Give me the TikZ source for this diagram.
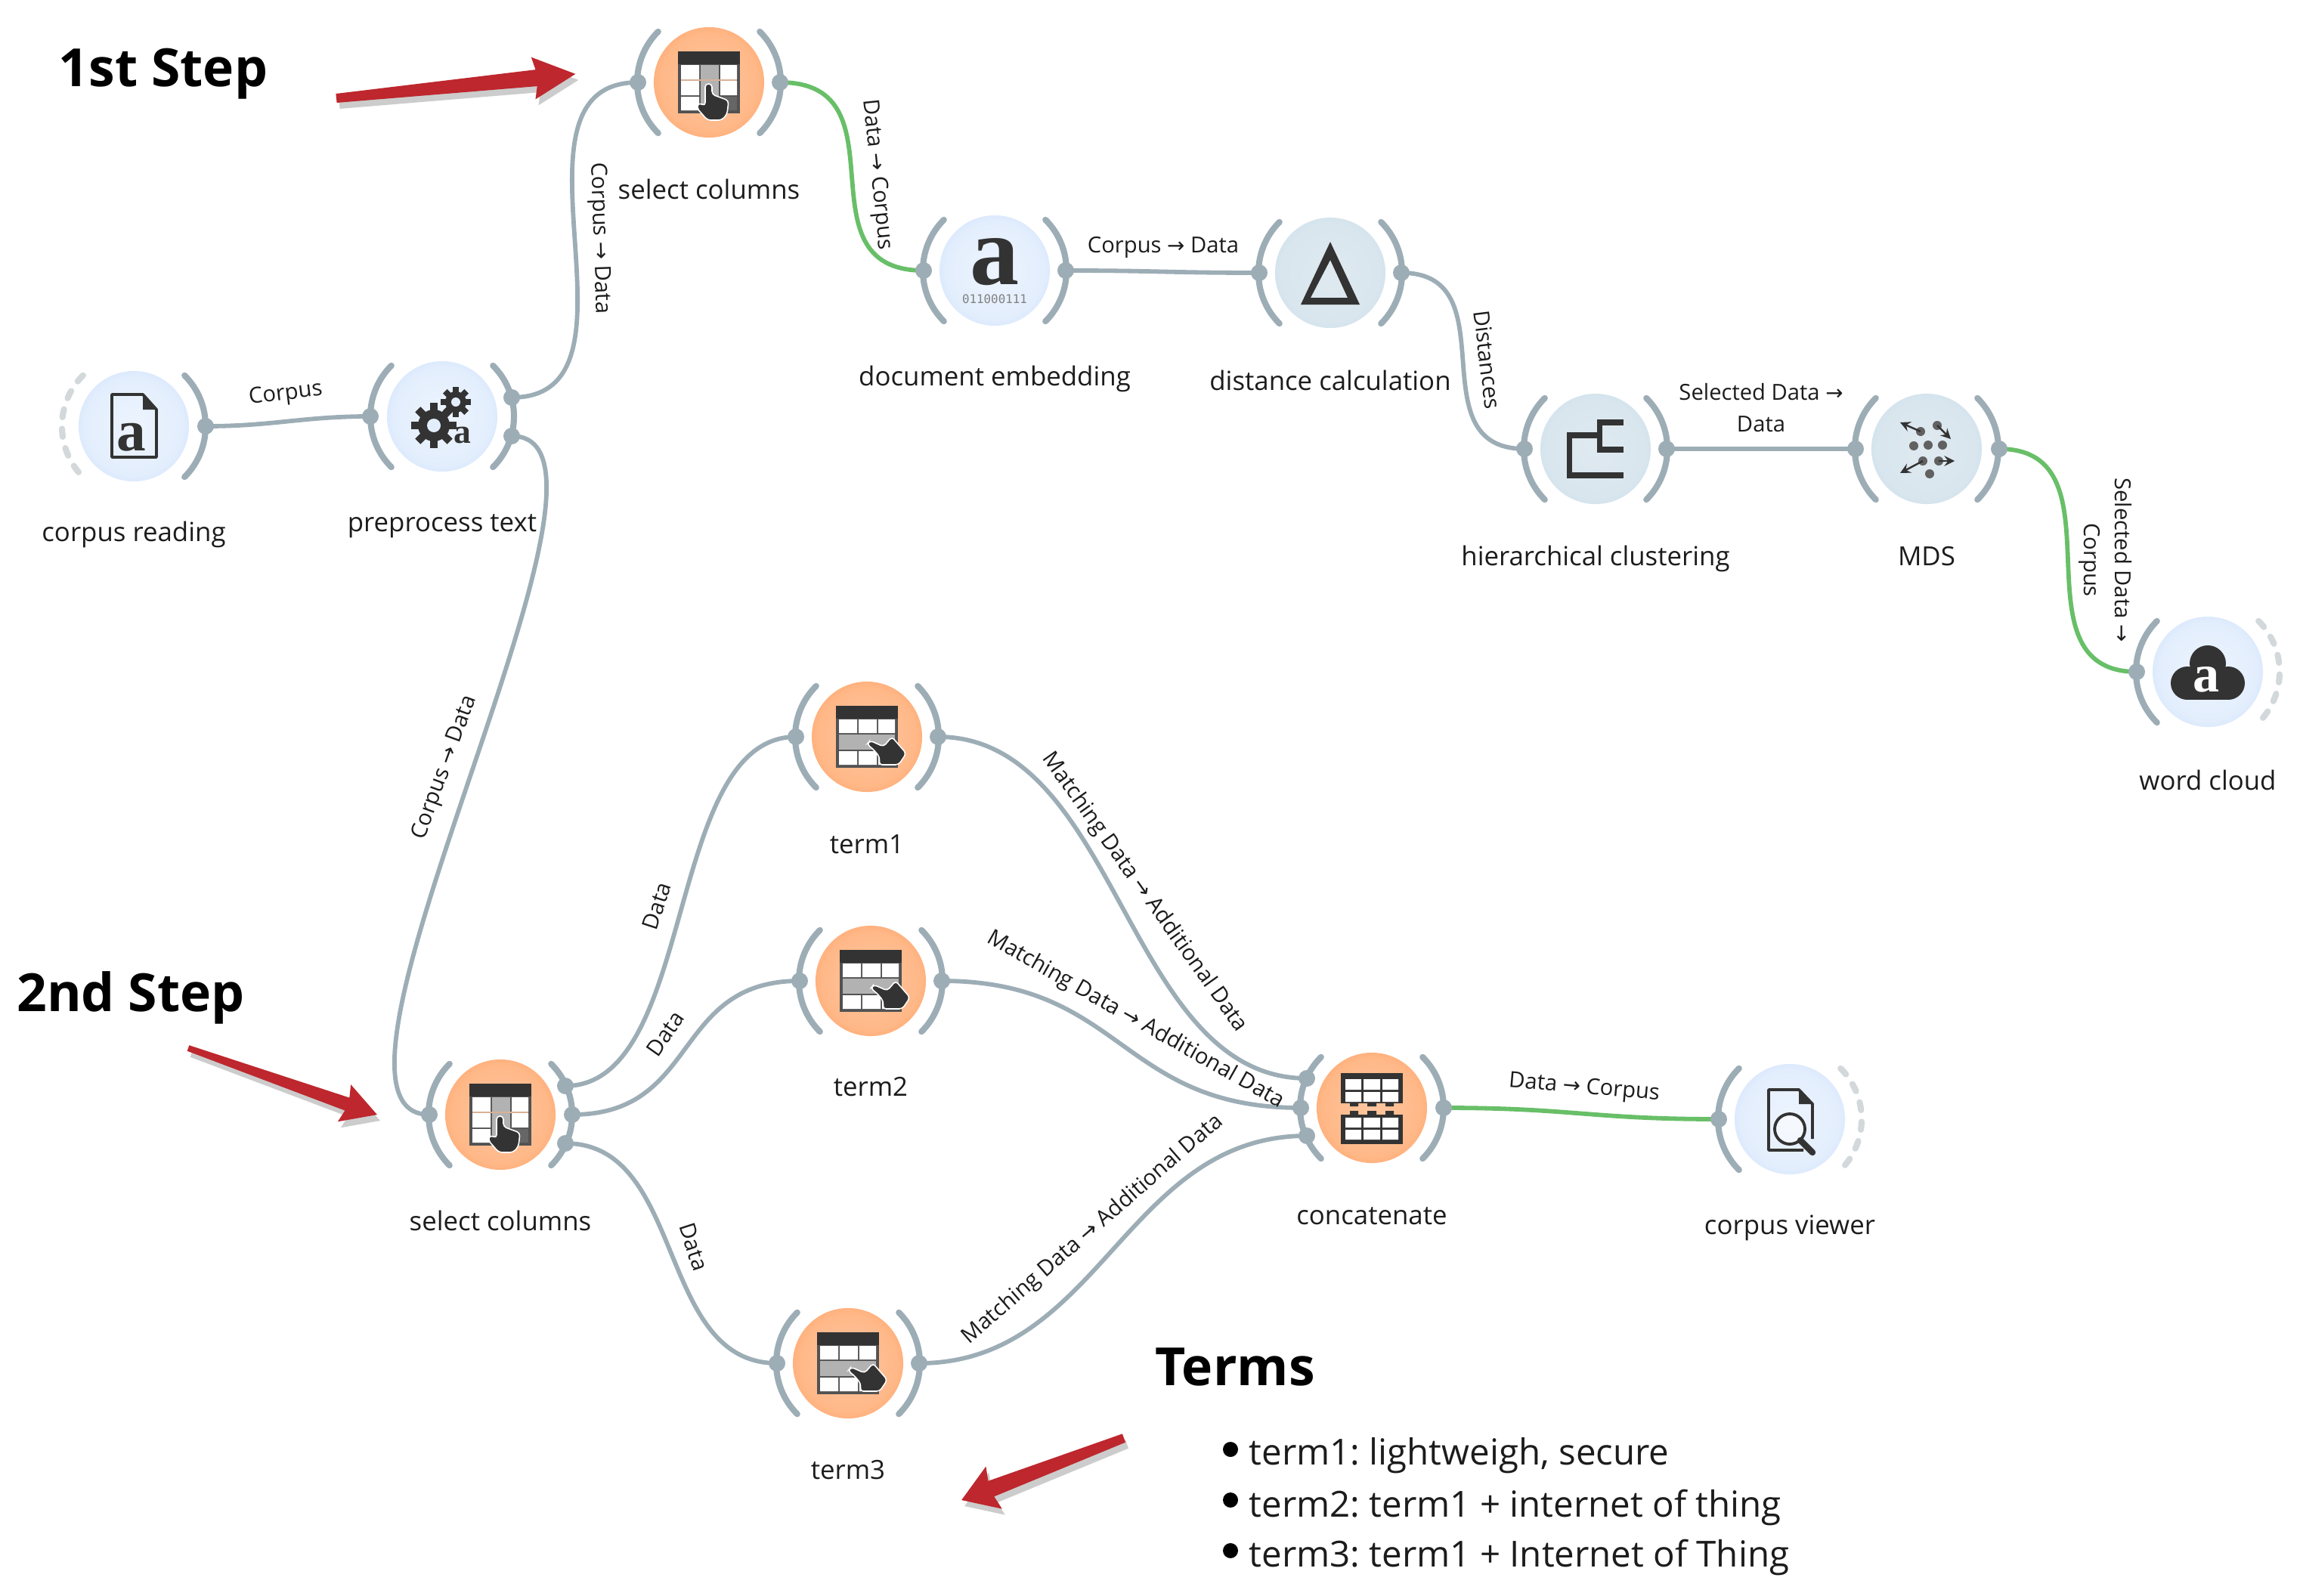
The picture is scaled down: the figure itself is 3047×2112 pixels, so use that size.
\documentclass[tikz,border=0pt]{standalone}
\usepackage{fontspec}
\setmainfont{Open Sans}
\newfontfamily\djv[Scale=0.95]{DejaVu Sans}
\newfontfamily\slab{Liberation Serif}
\newfontfamily\mono{DejaVu Sans Mono}
\definecolor{ico}{HTML}{333333}
\definecolor{wire}{HTML}{9DADB6}
\definecolor{ghost}{HTML}{D3D8DB}
\definecolor{gwire}{HTML}{68BF68}
\definecolor{redar}{HTML}{BD272D}
\definecolor{txt}{HTML}{1C1C1C}
\definecolor{oa}{HTML}{FFC6A0}\definecolor{ob}{HTML}{FFB888}\definecolor{oc}{HTML}{FF9C5E}
\definecolor{ba}{HTML}{EDF4FE}\definecolor{bb}{HTML}{E3EEFD}\definecolor{bc}{HTML}{C6DDFB}
\definecolor{sa}{HTML}{DFE9F0}\definecolor{sb}{HTML}{D9E6EE}\definecolor{sc}{HTML}{C6DCEA}
\pgfdeclareradialshading{orangeW}{\pgfpointorigin}{color(0bp)=(oa);color(22bp)=(ob);color(35bp)=(oc);color(50bp)=(oc)}
\pgfdeclareradialshading{blueW}{\pgfpointorigin}{color(0bp)=(ba);color(22bp)=(bb);color(35bp)=(bc);color(50bp)=(bc)}
\pgfdeclareradialshading{steelW}{\pgfpointorigin}{color(0bp)=(sa);color(22bp)=(sb);color(35bp)=(sc);color(50bp)=(sc)}
\pgfdeclarelayer{bg}\pgfsetlayers{bg,main}
\tikzset{
  wid/.style={circle,inner sep=0pt,minimum size=1.46cm,shade,shading=#1,draw=none},
  arcS/.style={draw=wire,line width=2.3pt,line cap=round},
  arcG/.style={draw=ghost,line width=2.3pt,line cap=round,dash pattern=on 3pt off 4.4pt},
  port/.style={circle,inner sep=0pt,minimum size=0.22cm,fill=wire},
  edge/.style={draw=wire,line width=1.65pt},
  gedge/.style={draw=gwire,line width=1.65pt},
  nlab/.style={inner sep=0pt,text=txt,font=\fontsize{9.9}{11}\selectfont},
  elab/.style={inner sep=0pt,text=txt,font=\fontsize{8.3}{9}\selectfont,align=center},
  head/.style={inner sep=0pt,text=black,font=\fontsize{19.8}{22}\selectfont\bfseries},
  blt/.style={inner sep=0pt,anchor=base west,text=txt,font=\fontsize{13.5}{15}\selectfont},
  bdot/.style={circle,inner sep=0pt,minimum size=0.2cm,fill=black},
}
\newcommand{\lpath}[2]{(#1-67.2,#2-67.2) .. controls (#1-104.3,#2-30.1) and (#1-104.3,#2+30.1) .. (#1-67.2,#2+67.2)}
\newcommand{\rpath}[2]{(#1+67.2,#2-67.2) .. controls (#1+104.3,#2-30.1) and (#1+104.3,#2+30.1) .. (#1+67.2,#2+67.2)}
% name, x, y, shading, left style, right style, label, label y
\newcommand{\wdg}[8]{%
  \node[wid=#4] (#1) at (#2,#3) {};
  \path[#5] \lpath{#2}{#3};
  \path[#6] \rpath{#2}{#3};
  \node[nlab] (#1l) at (#2,#8) {#7};
}
\newcommand{\prt}[3]{\node[port] (#1) at (#2,#3) {};}
\newcommand{\wire}[4]{\begin{pgfonlayer}{bg}\draw[#1] (#2.center) .. controls +(#4,0) and +(-#4,0) .. (#3.center);\end{pgfonlayer}}
\newcommand{\handS}{\filldraw[fill=ico,draw=white,line width=.45pt,rounded corners=1.2pt] (-5,2) -- (4,2) -- (4,16) -- (26,24) -- (24,42) -- (17,50) -- (-2,50) -- (-16,34) -- (-14,27) -- (-5,31) -- cycle;}
\newcommand{\handT}{\filldraw[fill=ico,draw=white,line width=.45pt,rounded corners=1.2pt] (0,10) -- (4,5) -- (22,13) -- (33,0) -- (52,22) -- (42,37) -- (16,37) -- (17,27) -- (8,16) -- cycle;}
\newcommand{\tblS}[2]{\begin{scope}[shift={(#1,#2)}]
  \fill[fill=ico!85!white] (-41,-41) rectangle (41,41);
  \fill[ico] (-41,-41) rectangle (41,-24);
  \fill[white] (-37,-23) rectangle (-13,-4) (-37,-2) rectangle (-13,17) (-37,19) rectangle (-13,37) (15,-23) rectangle (37,-4) (15,-2) rectangle (37,17);
  \fill[black!30] (-11,-23) rectangle (13,37);
  \fill[black!60] (15,19) rectangle (37,37);
  \fill[oa!70!gray] (-37,-4) rectangle (37,-2);
  \handS
\end{scope}}
\newcommand{\tblT}[2]{\begin{scope}[shift={(#1,#2)}]
  \fill[fill=ico!85!white] (-41,-41) rectangle (41,41);
  \fill[ico] (-41,-41) rectangle (41,-24);
  \fill[white] (-37,-23) rectangle (-13,-5) (-11,-23) rectangle (13,-5) (15,-23) rectangle (37,-5) (-37,19) rectangle (-13,37) (-11,19) rectangle (13,37) (15,19) rectangle (37,37);
  \fill[black!30] (-37,-3) rectangle (37,17);
  \handT
\end{scope}}
\begin{document}
\frenchspacing
\begin{tikzpicture}[x=0.01cm,y=-0.01cm]
\useasboundingbox (0,0) rectangle (3047,2112);
\begin{pgfonlayer}{bg}\fill[white] (0,0) rectangle (3047,2112);\end{pgfonlayer}

% widgets
\wdg{corp}{177}{564}{blueW}{arcG}{arcS}{corpus reading}{707}
\wdg{prep}{585}{551}{blueW}{arcS}{arcS}{preprocess text}{696}
\wdg{selA}{938}{109}{orangeW}{arcS}{arcS}{select columns}{250}
\wdg{docE}{1316}{358}{blueW}{arcS}{arcS}{document embedding}{501}
\wdg{dist}{1760}{361}{steelW}{arcS}{arcS}{distance calculation}{503}
\wdg{hier}{2111}{594}{steelW}{arcS}{arcS}{hierarchical clustering}{739}
\wdg{mds}{2549}{594}{steelW}{arcS}{arcS}{MDS}{736}
\wdg{wcl}{2921}{889}{blueW}{arcS}{arcG}{word cloud}{1032}
\wdg{selB}{662}{1475}{orangeW}{arcS}{arcS}{select columns}{1615}
\wdg{tA}{1147}{975}{orangeW}{arcS}{arcS}{term1}{1117}
\wdg{tB}{1152}{1298}{orangeW}{arcS}{arcS}{term2}{1438}
\wdg{tC}{1122}{1804}{orangeW}{arcS}{arcS}{term3}{1945}
\wdg{conc}{1815}{1466}{orangeW}{arcS}{arcS}{concatenate}{1609}
\wdg{view}{2368}{1481}{blueW}{arcS}{arcG}{corpus viewer}{1625}

% ports
\prt{corpO}{272}{564}
\prt{prepI}{490}{551}\prt{prepOa}{677}{526}\prt{prepOb}{677}{577}
\prt{selAI}{844}{109}\prt{selAO}{1032}{109}
\prt{docI}{1222}{358}\prt{docO}{1410}{358}
\prt{distI}{1666}{361}\prt{distO}{1854}{361}
\prt{hierI}{2017}{594}\prt{hierO}{2205}{594}
\prt{mdsI}{2455}{594}\prt{mdsO}{2645}{594}
\prt{wclI}{2827}{889}
\prt{selBI}{568}{1475}\prt{selBOa}{748}{1437}\prt{selBOb}{757}{1475}\prt{selBOc}{748}{1513}
\prt{tAI}{1053}{975}\prt{tAO}{1241}{975}
\prt{tBI}{1058}{1298}\prt{tBO}{1246}{1298}
\prt{tCI}{1028}{1804}\prt{tCO}{1216}{1804}
\prt{concIa}{1729}{1427}\prt{concIb}{1721}{1466}\prt{concIc}{1729}{1503}\prt{concO}{1910}{1466}
\prt{viewI}{2274}{1481}

% connectors
\wire{edge}{corpO}{prepI}{90}
\wire{edge}{prepOa}{selAI}{195}
\wire{edge}{prepOb}{selBI}{195}
\wire{gedge}{selAO}{docI}{170}
\wire{edge}{docO}{distI}{120}
\wire{edge}{distO}{hierI}{145}
\wire{edge}{hierO}{mdsI}{100}
\wire{gedge}{mdsO}{wclI}{170}
\wire{edge}{selBOa}{tAI}{175}
\wire{edge}{selBOb}{tBI}{170}
\wire{edge}{selBOc}{tCI}{160}
\wire{edge}{tAO}{concIa}{240}
\wire{edge}{tBO}{concIb}{240}
\wire{edge}{tCO}{concIc}{240}
\wire{gedge}{concO}{viewI}{170}

% connector labels
\node[elab,rotate=7] (e1) at (378,522) {Corpus};
\node[elab,rotate=-88] (e2) at (793,315) {Corpus {\djv →} Data};
\node[elab,rotate=-84] (e3) at (1160,231) {Data {\djv →} Corpus};
\node[elab] (e4) at (1539,327) {Corpus {\djv →} Data};
\node[elab,rotate=-83] (e5) at (1968,476) {Distances};
\node[elab] (e6) at (2330,519) {Selected Data {\djv →}};
\node[elab] (e7) at (2330,561) {Data};
\node[elab,rotate=-90] (e8) at (2809,741) {Selected Data {\djv →}};
\node[elab,rotate=-90] (e9) at (2765,741) {Corpus};
\node[elab,rotate=70] (e10) at (589,1016) {Corpus {\djv →} Data};
\node[elab,rotate=72] (e11) at (869,1199) {Data};
\node[elab,rotate=55] (e12) at (880,1368) {Data};
\node[elab,rotate=-72] (e13) at (918,1650) {Data};
\node[elab,rotate=-54.5] (e14) at (1514,1181) {Matching Data {\djv →} Additional Data};
\node[elab,rotate=-29.5] (e15) at (1502,1350) {Matching Data {\djv →} Additional Data};
\node[elab,rotate=41] (e16) at (1446,1627) {Matching Data {\djv →} Additional Data};
\node[elab,rotate=-5] (e17) at (2096,1440) {Data {\djv →} Corpus};

% icons: tables
\tblS{938}{109}
\tblS{662}{1475}
\tblT{1147}{975}
\tblT{1152}{1298}
\tblT{1122}{1804}

% corpus reading icon
\begin{scope}[shift={(177,564)}]
  \draw[ico,line width=1.1pt,line join=round] (-29,-42) -- (12,-42) -- (30,-22) -- (30,41) -- (-29,41) -- cycle;
  \fill[ico] (12,-42) -- (30,-22) -- (12,-22) -- cycle;
  \node[inner sep=0pt,text=ico,font=\fontsize{22}{24}\selectfont\slab\bfseries] (corpa) at (-3,15) {a};
\end{scope}

% preprocess icon
\begin{scope}[shift={(585,551)}]
  \foreach \a in {0,45,...,315}{\fill[ico,rotate around={\a:(-11,12)}] (-16,-18) rectangle (-6,0);}
  \fill[ico] (-11,12) circle (21);
  \fill[bb] (-11,12) circle (9);
  \foreach \a in {0,45,...,315}{\fill[ico,rotate around={\a:(18,-19)}] (14,-39) rectangle (22,-24);}
  \fill[ico] (18,-19) circle (14);
  \fill[bb] (18,-19) circle (6);
  \node[inner sep=0pt,text=ico,font=\fontsize{13}{16}\selectfont\slab\bfseries] (prepa) at (27,25) {a};
\end{scope}

% document embedding icon
\node[inner sep=0pt,text=ico,font=\fontsize{37}{40}\selectfont\slab\bfseries] (doca) at (1316,347) {a};
\node[inner sep=0pt,text=black!50,font=\fontsize{4.5}{5}\selectfont\mono] (docb) at (1316,396) {011000111};

% distance icon
\begin{scope}[shift={(1760,361)}]
  \fill[ico,even odd rule] (0,-41) -- (39,42) -- (-39,42) -- cycle (0,-17) -- (-26,33) -- (23,33) -- cycle;
\end{scope}

% dendrogram icon
\begin{scope}[shift={(2111,594)}]
  \draw[ico,line width=2pt] (37,35) -- (-35,35) -- (-35,-18) -- (5,-18);
  \draw[ico,line width=2pt] (37,-35) -- (5,-35) -- (5,1) -- (37,1);
\end{scope}

% MDS icon
\begin{scope}[shift={(2549,594)}]
  \foreach \p/\q in {-8/-23,14/-31,-17/-4,2/-5,21/-5,-5/16,16/16,4/33}{\fill[black!62] (\p,\q) circle (6);}
  \draw[ico,line width=.7pt,-stealth] (-8,-23) -- (-35,-35);
  \draw[ico,line width=.7pt,-stealth] (14,-31) -- (32,-13);
  \draw[ico,line width=.7pt,-stealth] (-5,16) -- (-35,32);
  \draw[ico,line width=.7pt,-stealth] (16,16) -- (37,16);
\end{scope}

% word cloud icon
\begin{scope}[shift={(2921,889)}]
  \fill[ico] (0,-11) circle (24);
  \fill[ico] (-27,15) circle (22);
  \fill[ico] (27,15) circle (22);
  \fill[ico] (-27,0) rectangle (27,37);
  \node[inner sep=0pt,text=white,font=\fontsize{20}{22}\selectfont\slab\bfseries] (wcla) at (-2,10) {a};
\end{scope}

% concatenate icon
\begin{scope}[shift={(1815,1466)}]
  \fill[ico] (-41,-46) rectangle (41,-6);
  \fill[white] (-35,-38) rectangle (-14,-24) (-11,-38) rectangle (11,-24) (14,-38) rectangle (35,-24)
               (-35,-21) rectangle (-14,-8) (-11,-21) rectangle (11,-8) (14,-21) rectangle (35,-8);
  \fill[ico] (-29,-6) rectangle (-18,-2) (-6,-6) rectangle (6,-2) (18,-6) rectangle (29,-2);
  \fill[ico] (-41,9) rectangle (41,48);
  \fill[ico] (-29,4) rectangle (-18,9) (-6,4) rectangle (6,9) (18,4) rectangle (29,9);
  \fill[white] (-35,13) rectangle (-14,26) (-11,13) rectangle (11,26) (14,13) rectangle (35,26)
               (-35,29) rectangle (-14,42) (-11,29) rectangle (11,42) (14,29) rectangle (35,42);
\end{scope}

% corpus viewer icon
\begin{scope}[shift={(2368,1481)}]
  \draw[ico,line width=1.1pt,line join=round] (30,26) -- (30,-20) -- (12,-39) -- (-28,-39) -- (-28,41) -- (18,41);
  \fill[ico] (12,-39) -- (30,-20) -- (12,-20) -- cycle;
  \draw[ico,line width=1.1pt,fill=white,fill opacity=.5] (0,13) circle (20);
  \draw[ico,line width=2.4pt,line cap=round] (14,28) -- (30,44);
\end{scope}

% red arrows
\newcommand{\redar}[8]{%
 \begin{scope}[shift={(#1+4,#2+8)},rotate=#3]
  \fill[black,opacity=.2] (0,-#5) -- (#4-#7,-#6) -- (#4-#7-4,-#8) -- (#4,0) -- (#4-#7-4,#8) -- (#4-#7,#6) -- (0,#5) -- cycle;
 \end{scope}
 \begin{scope}[shift={(#1,#2)},rotate=#3]
  \fill[redar] (0,-#5) -- (#4-#7,-#6) -- (#4-#7-4,-#8) -- (#4,0) -- (#4-#7-4,#8) -- (#4-#7,#6) -- (0,#5) -- cycle;
 \end{scope}}
\redar{445}{130}{5.8}{318}{6}{11}{52}{28}
\redar{249}{1387}{-19.4}{265}{4}{9}{42}{26}
\redar{1487}{1903}{-159.1}{230}{6}{11}{42}{30}

% headings and list
\node[head] (h1) at (216,98) {1st Step};
\node[head] (h2) at (173,1320) {2nd Step};
\node[head] (h3) at (1634,1809) {Terms};
\node[bdot] (b1) at (1628,1918) {};
\node[bdot] (b2) at (1628,1985) {};
\node[bdot] (b3) at (1628,2052) {};
\node[blt] (t1) at (1652,1938) {term1: lightweigh, secure};
\node[blt] (t2) at (1652,2007) {term2: term1 + internet of thing};
\node[blt] (t3) at (1652,2073) {term3: term1 + Internet of Thing};
\end{tikzpicture}
\end{document}
